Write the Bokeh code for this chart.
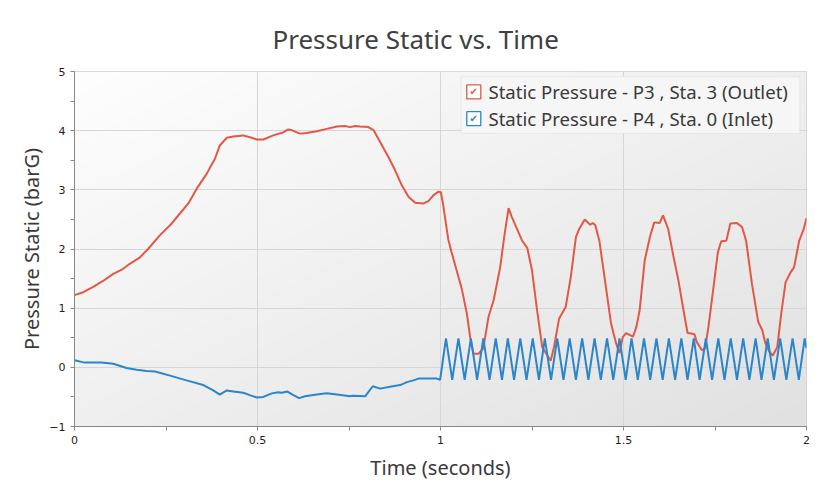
import numpy as np
from bokeh.plotting import figure
from bokeh.models import FixedTicker, BoxAnnotation, Range1d
from bokeh.core.properties import value
from bokeh.embed import file_html
from bokeh.resources import INLINE

# --- series: static pressure at P3 (outlet) -------------------------------
t_p3 = [0.000, 0.024, 0.051, 0.078, 0.106, 0.129, 0.151, 0.179, 0.201, 0.233,
        0.261, 0.288, 0.311, 0.334, 0.361, 0.384, 0.397, 0.416, 0.434, 0.461,
        0.484, 0.498, 0.516, 0.543, 0.570, 0.584, 0.593, 0.616, 0.634, 0.662,
        0.689, 0.717, 0.739, 0.753, 0.767, 0.780, 0.803, 0.817, 0.835, 0.858,
        0.876, 0.894, 0.913, 0.931, 0.954, 0.967, 0.981, 0.995, 1.001, 1.007,
        1.021, 1.030, 1.044, 1.058, 1.072, 1.081, 1.090, 1.104, 1.117, 1.131,
        1.145, 1.163, 1.174, 1.186, 1.195, 1.209, 1.223, 1.237, 1.250, 1.264,
        1.278, 1.292, 1.301, 1.310, 1.324, 1.342, 1.356, 1.370, 1.379, 1.394,
        1.409, 1.416, 1.423, 1.434, 1.448, 1.466, 1.480, 1.489, 1.498, 1.507,
        1.526, 1.535, 1.544, 1.558, 1.572, 1.584, 1.599, 1.608, 1.622, 1.636,
        1.650, 1.664, 1.675, 1.686, 1.694, 1.700, 1.714, 1.723, 1.732, 1.746,
        1.758, 1.767, 1.781, 1.792, 1.810, 1.824, 1.835, 1.851, 1.868, 1.879,
        1.888, 1.899, 1.908, 1.920, 1.932, 1.943, 1.957, 1.966, 1.980, 1.991,
        2.000]
p3 = [1.22, 1.27, 1.36, 1.46, 1.58, 1.65, 1.75, 1.86, 2.00, 2.23,
      2.40, 2.60, 2.77, 3.02, 3.27, 3.53, 3.75, 3.88, 3.90, 3.92,
      3.88, 3.85, 3.85, 3.92, 3.97, 4.02, 4.01, 3.95, 3.96, 3.99,
      4.03, 4.07, 4.08, 4.06, 4.08, 4.07, 4.06, 4.01, 3.81, 3.55,
      3.33, 3.08, 2.88, 2.78, 2.77, 2.81, 2.91, 2.97, 2.96, 2.76,
      2.17, 1.95, 1.64, 1.33, 0.91, 0.51, 0.23, 0.23, 0.32, 0.85,
      1.13, 1.69, 2.20, 2.69, 2.54, 2.34, 2.14, 2.02, 1.64, 0.96,
      0.34, 0.20, 0.11, 0.34, 0.82, 1.02, 1.53, 2.20, 2.34, 2.50,
      2.41, 2.44, 2.40, 2.14, 1.53, 0.74, 0.40, 0.24, 0.51, 0.58,
      0.52, 0.68, 0.96, 1.81, 2.20, 2.45, 2.44, 2.57, 2.34, 1.89,
      1.47, 0.96, 0.58, 0.57, 0.56, 0.43, 0.29, 0.32, 0.68, 1.36,
      1.95, 2.13, 2.14, 2.43, 2.44, 2.37, 2.14, 1.41, 0.77, 0.63,
      0.40, 0.26, 0.20, 0.34, 0.96, 1.44, 1.61, 1.69, 2.14, 2.31,
      2.52]

# --- series: static pressure at P4 (inlet) --------------------------------
t_p4 = [0.000, 0.028, 0.074, 0.106, 0.142, 0.170, 0.197, 0.220, 0.261, 0.306,
        0.352, 0.379, 0.397, 0.416, 0.434, 0.461, 0.479, 0.498, 0.516, 0.539,
        0.557, 0.566, 0.582, 0.598, 0.614, 0.630, 0.662, 0.689, 0.717, 0.753,
        0.762, 0.794, 0.815, 0.835, 0.862, 0.890, 0.908, 0.926, 0.940, 0.990,
        0.999,
        1.015, 1.032, 1.049, 1.066, 1.083, 1.100, 1.117, 1.134, 1.151, 1.168,
        1.184, 1.201, 1.218, 1.235, 1.252, 1.269, 1.285, 1.302, 1.319, 1.336,
        1.353, 1.370, 1.387, 1.404, 1.421, 1.438, 1.455, 1.472, 1.489, 1.506,
        1.522, 1.539, 1.556, 1.573, 1.590, 1.607, 1.624, 1.641, 1.658, 1.675,
        1.692, 1.708, 1.725, 1.742, 1.759, 1.776, 1.793, 1.810, 1.827, 1.844,
        1.861, 1.877, 1.894, 1.911, 1.928, 1.945, 1.962, 1.979, 1.995, 2.000]
p4 = [0.12, 0.08, 0.08, 0.06, -0.01, -0.04, -0.06, -0.07, -0.14, -0.22,
      -0.30, -0.39, -0.46, -0.39, -0.41, -0.43, -0.47, -0.51, -0.50, -0.44,
      -0.42, -0.43, -0.41, -0.47, -0.52, -0.49, -0.46, -0.44, -0.46, -0.49,
      -0.48, -0.49, -0.32, -0.36, -0.33, -0.30, -0.25, -0.22, -0.19, -0.19,
      -0.21,
      0.49, -0.21, 0.49, -0.21, 0.49, -0.21, 0.49, -0.21, 0.49, -0.21,
      0.49, -0.21, 0.49, -0.21, 0.49, -0.21, 0.49, -0.21, 0.49, -0.21,
      0.49, -0.21, 0.49, -0.21, 0.49, -0.21, 0.49, -0.21, 0.49, -0.21,
      0.49, -0.21, 0.49, -0.21, 0.49, -0.21, 0.49, -0.21, 0.49, -0.21,
      0.49, -0.21, 0.49, -0.21, 0.49, -0.21, 0.49, -0.21, 0.49, -0.21,
      0.49, -0.21, 0.49, -0.21, 0.49, -0.21, 0.49, -0.21, 0.49, 0.32]

series_names = ["Static Pressure - P3 , Sta. 3 (Outlet)",
                "Static Pressure - P4 , Sta. 0 (Inlet)"]

x_ticks = [0, 0.5, 1, 1.5, 2]
x_minor = [0.25, 0.75, 1.25, 1.75]
y_ticks = [-1, 0, 1, 2, 3, 4, 5]
y_minor = [-0.5, 0.5, 1.5, 2.5, 3.5, 4.5]

RED = "#e25846"
BLUE = "#2a86c8"
TEXT = "#3a3a3a"
UI_FONT = "Noto Sans"

p = figure(width=831, height=502, output_backend="svg", toolbar_location=None,
           x_range=Range1d(0, 2), y_range=Range1d(-1, 5),
           min_border_left=74, min_border_right=25,
           min_border_top=71, min_border_bottom=76,
           title="Pressure Static vs. Time")

p.border_fill_color = "white"
p.background_fill_color = "white"
p.outline_line_color = "#d0d0d0"

# diagonal light-grey wash behind the plot area
rows, cols = 180, 370
u = np.linspace(0.0, 1.0, cols)[None, :]
v = np.linspace(0.0, 1.0, rows)[:, None]          # 0 = bottom row
d = (u + (1.0 - v)) / 2.0
shade = (254 - d * (254 - 225)).astype(np.uint8)
img = np.empty((rows, cols), dtype=np.uint32)
view = img.view(dtype=np.uint8).reshape((rows, cols, 4))
view[:, :, 0] = shade
view[:, :, 1] = shade
view[:, :, 2] = shade
view[:, :, 3] = 255
p.image_rgba(image=[img], x=0, y=-1, dw=2, dh=6, level="image")

# title, centred over the whole canvas
p.title.text_font = UI_FONT
p.title.text_font_size = "26px"
p.title.text_font_style = "normal"
p.title.text_color = "#404040"
p.title.align = "left"
p.title.offset = 198
p.title.standoff = 30

# axes
p.xaxis.ticker = FixedTicker(ticks=x_ticks, minor_ticks=x_minor)
p.yaxis.ticker = FixedTicker(ticks=y_ticks, minor_ticks=y_minor)
p.xaxis.axis_label = "Time (seconds)"
p.yaxis.axis_label = "Pressure Static (barG)"
for ax in (p.xaxis, p.yaxis):
    ax.axis_line_color = "#888888"
    ax.major_tick_line_color = "#888888"
    ax.minor_tick_line_color = "#888888"
    ax.major_tick_in = 0
    ax.major_tick_out = 4
    ax.minor_tick_in = 0
    ax.minor_tick_out = 4
    ax.major_label_text_font = "DejaVu Sans"
    ax.major_label_text_font_size = "11px"
    ax.major_label_text_color = "#1e1e1e"
    ax.major_label_standoff = 5
    ax.axis_label_text_font = UI_FONT
    ax.axis_label_text_font_size = "20px"
    ax.axis_label_text_font_style = "normal"
    ax.axis_label_text_color = TEXT
p.xaxis.axis_label_standoff = 7
p.yaxis.axis_label_standoff = 1
p.yaxis.major_label_orientation = "horizontal"

p.xgrid.grid_line_color = "#d6d6d6"
p.ygrid.grid_line_color = "#d6d6d6"

# data lines
p.line(t_p3, p3, line_color=RED, line_width=2)
p.line(t_p4, p4, line_color=BLUE, line_width=2)

# legend with check boxes
p.add_layout(BoxAnnotation(left=1.056, right=1.982, bottom=3.954, top=4.912,
                           fill_color="#f6f6f6", fill_alpha=1.0,
                           line_color="#cccccc", line_width=1))
box_x = [1.091, 1.091]
box_y = [4.654, 4.203]
p.scatter(box_x, box_y, marker="square", size=14, fill_color="white",
          line_color=[RED, BLUE], line_width=1.3, level="overlay")
p.text(box_x, box_y, text=["\u2714", "\u2714"], text_color=[RED, BLUE],
       text_align="center", text_baseline="middle",
       text_font=value("DejaVu Sans"), text_font_size="10px", level="overlay")
p.text([1.131, 1.131], box_y, text=series_names, text_color=TEXT,
       text_baseline="middle", text_font=value(UI_FONT),
       text_font_size="18.6px", level="overlay")

open("out.html", "w").write(file_html(p, INLINE))
